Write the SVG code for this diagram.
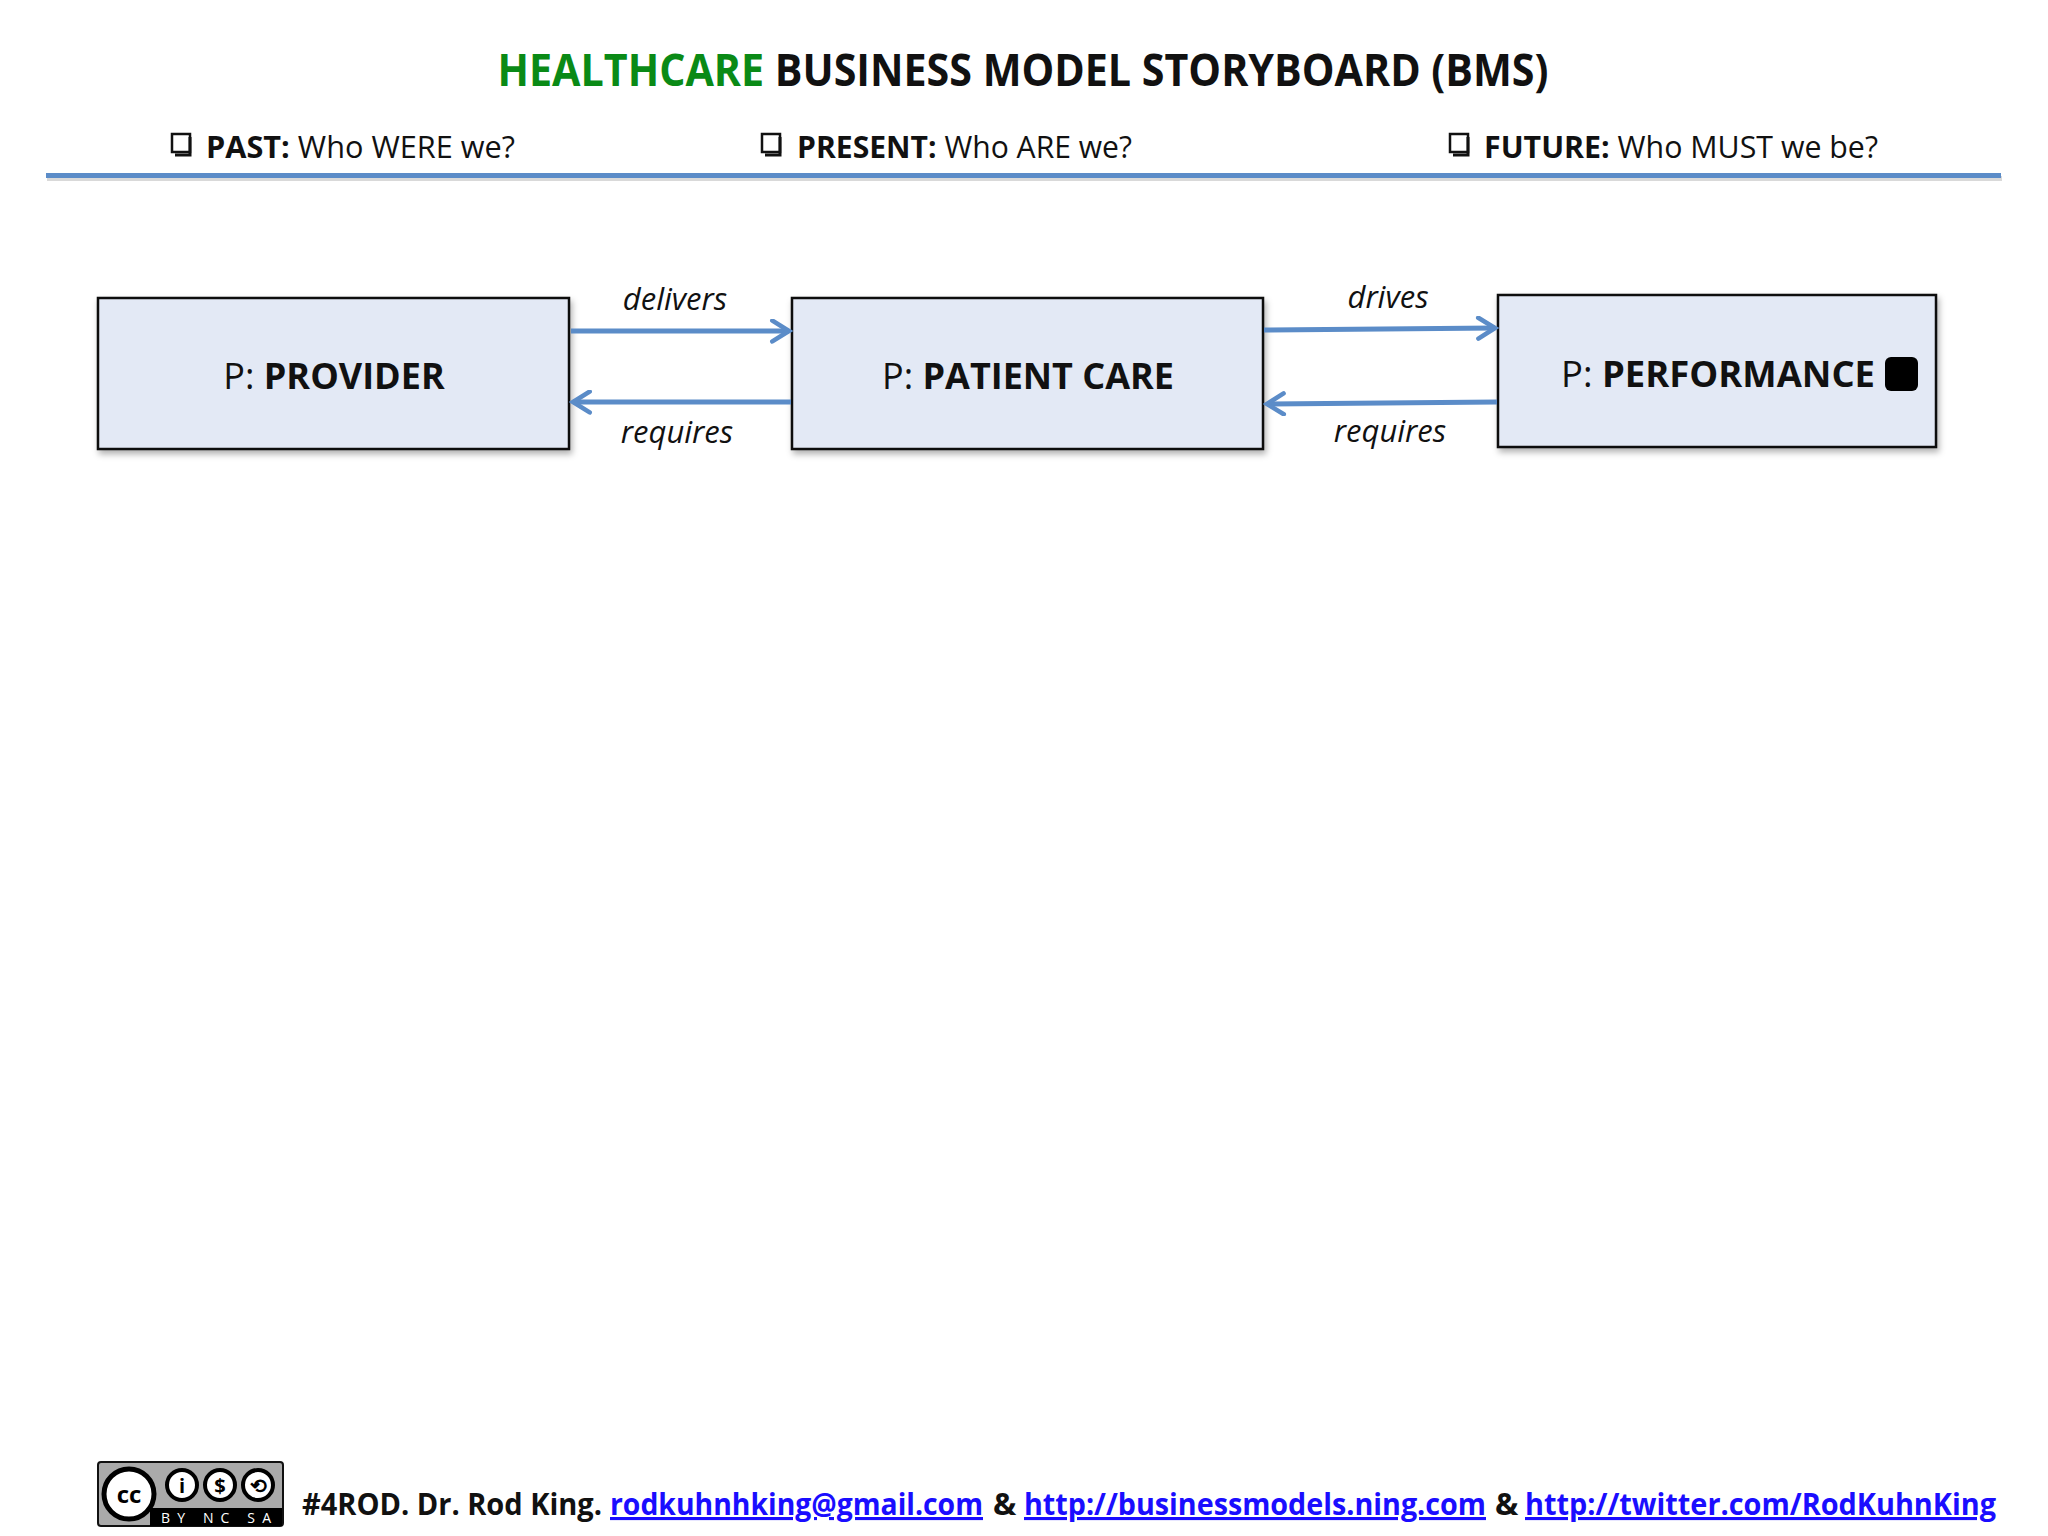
<svg xmlns="http://www.w3.org/2000/svg" width="2048" height="1536" viewBox="0 0 2048 1536">
<defs>
<style>
text{font-family:"Open Sans","Noto Sans","Liberation Sans",sans-serif;}
.node{fill:#e3e9f5;stroke:#111;stroke-width:2.5;}
.lbl{font-size:36px;fill:#111;text-anchor:middle;}
.edge{font-size:31px;font-style:italic;fill:#111;text-anchor:middle;}
.con{stroke:#5b8cc8;stroke-width:5;fill:none;marker-end:url(#ah);}
.hdr{font-size:31px;fill:#111;}
.ft{font-size:31px;font-weight:bold;fill:#111;}
.link{fill:#1a0dff;text-decoration:underline;}
</style>
<marker id="ah" viewBox="0 0 12 12" refX="10" refY="6" markerWidth="5" markerHeight="5" orient="auto" markerUnits="strokeWidth"><path d="M2,1 L10,6 L2,11" fill="none" stroke="#5b8cc8" stroke-width="2.2" stroke-linecap="round"/></marker>
<filter id="sh" x="-5%" y="-5%" width="115%" height="125%"><feDropShadow dx="2" dy="4" stdDeviation="3" flood-color="#000" flood-opacity="0.3"/></filter>
</defs>
<rect width="2048" height="1536" fill="#fff"/>
<g id="title"><text x="1023" y="86" font-size="44" font-weight="bold" text-anchor="middle" textLength="1051" lengthAdjust="spacingAndGlyphs"><tspan fill="#0a8a16">HEALTHCARE</tspan><tspan fill="#111"> BUSINESS MODEL STORYBOARD (BMS)</tspan></text></g>
<g id="headers">
<rect x="172" y="134" width="18" height="18" fill="#fff" stroke="#111" stroke-width="2.5"/><path d="M190,137 v18 h-15" stroke="#111" stroke-width="3" fill="none"/>
<text class="hdr" x="206" y="158" textLength="309" lengthAdjust="spacingAndGlyphs"><tspan font-weight="bold">PAST:</tspan> Who WERE we?</text>
<rect x="762" y="134" width="18" height="18" fill="#fff" stroke="#111" stroke-width="2.5"/><path d="M780,137 v18 h-15" stroke="#111" stroke-width="3" fill="none"/>
<text class="hdr" x="797" y="158" textLength="335" lengthAdjust="spacingAndGlyphs"><tspan font-weight="bold">PRESENT:</tspan> Who ARE we?</text>
<rect x="1450" y="134" width="18" height="18" fill="#fff" stroke="#111" stroke-width="2.5"/><path d="M1468,137 v18 h-15" stroke="#111" stroke-width="3" fill="none"/>
<text class="hdr" x="1484" y="158" textLength="394" lengthAdjust="spacingAndGlyphs"><tspan font-weight="bold">FUTURE:</tspan> Who MUST we be?</text>
<rect x="47" y="176" width="1955" height="5" fill="#000" opacity="0.15"/>
<rect x="46" y="173" width="1955" height="5" fill="#5b8cc8"/>
</g>
<g id="provider"><rect class="node" x="98" y="298" width="471" height="151" filter="url(#sh)"/><text class="lbl" x="334" y="389">P: <tspan font-weight="bold">PROVIDER</tspan></text></g>
<g id="patientcare"><rect class="node" x="792" y="298" width="471" height="151" filter="url(#sh)"/><text class="lbl" x="1028" y="389">P: <tspan font-weight="bold">PATIENT CARE</tspan></text></g>
<g id="performance"><rect class="node" x="1498" y="295" width="438" height="152" filter="url(#sh)"/><text class="lbl" x="1718" y="387" textLength="314" lengthAdjust="spacingAndGlyphs">P: <tspan font-weight="bold">PERFORMANCE</tspan></text><rect x="1885" y="357" width="33" height="34" rx="6" fill="#000"/></g>
<g id="connectors">
<line class="con" x1="571" y1="331" x2="789" y2="331"/>
<line class="con" x1="791" y1="402" x2="573" y2="402"/>
<line class="con" x1="1264" y1="330" x2="1495" y2="328"/>
<line class="con" x1="1497" y1="402" x2="1267" y2="404"/>
<text class="edge" x="675" y="310">delivers</text>
<text class="edge" x="677" y="443">requires</text>
<text class="edge" x="1388" y="308">drives</text>
<text class="edge" x="1390" y="442">requires</text>
</g>
<g id="footer">
<rect x="98" y="1462" width="185" height="64" rx="3" fill="#aaa" stroke="#111" stroke-width="2"/>
<rect x="150" y="1508" width="132" height="18" fill="#000"/>
<circle cx="129" cy="1494" r="25" fill="#fff" stroke="#000" stroke-width="5"/>
<text x="129" y="1503" font-size="24" font-weight="bold" text-anchor="middle" fill="#000">cc</text>
<circle cx="182" cy="1485" r="15" fill="#fff" stroke="#000" stroke-width="4"/>
<circle cx="220" cy="1485" r="15" fill="#fff" stroke="#000" stroke-width="4"/>
<circle cx="258" cy="1485" r="15" fill="#fff" stroke="#000" stroke-width="4"/>
<text x="182" y="1493" font-size="20" font-weight="bold" text-anchor="middle">i</text>
<text x="220" y="1493" font-size="20" font-weight="bold" text-anchor="middle">$</text>
<text x="258" y="1493" font-size="20" font-weight="bold" text-anchor="middle">⟲</text>
<text x="216" y="1523" font-size="14" fill="#fff" text-anchor="middle" textLength="110" lengthAdjust="spacing" font-family="Liberation Mono,monospace">BY NC SA</text>
<text class="ft" x="302" y="1515" textLength="300" lengthAdjust="spacingAndGlyphs">#4ROD. Dr. Rod King.</text>
<text class="ft link" x="610" y="1515" textLength="373" lengthAdjust="spacingAndGlyphs">rodkuhnhking@gmail.com</text>
<text class="ft" x="993" y="1515" font-size="28">&amp;</text>
<text class="ft link" x="1024" y="1515" textLength="462" lengthAdjust="spacingAndGlyphs">http://businessmodels.ning.com</text>
<text class="ft" x="1495" y="1515" font-size="28">&amp;</text>
<text class="ft link" x="1525" y="1515" textLength="471" lengthAdjust="spacingAndGlyphs">http://twitter.com/RodKuhnKing</text>
</g>
</svg>
